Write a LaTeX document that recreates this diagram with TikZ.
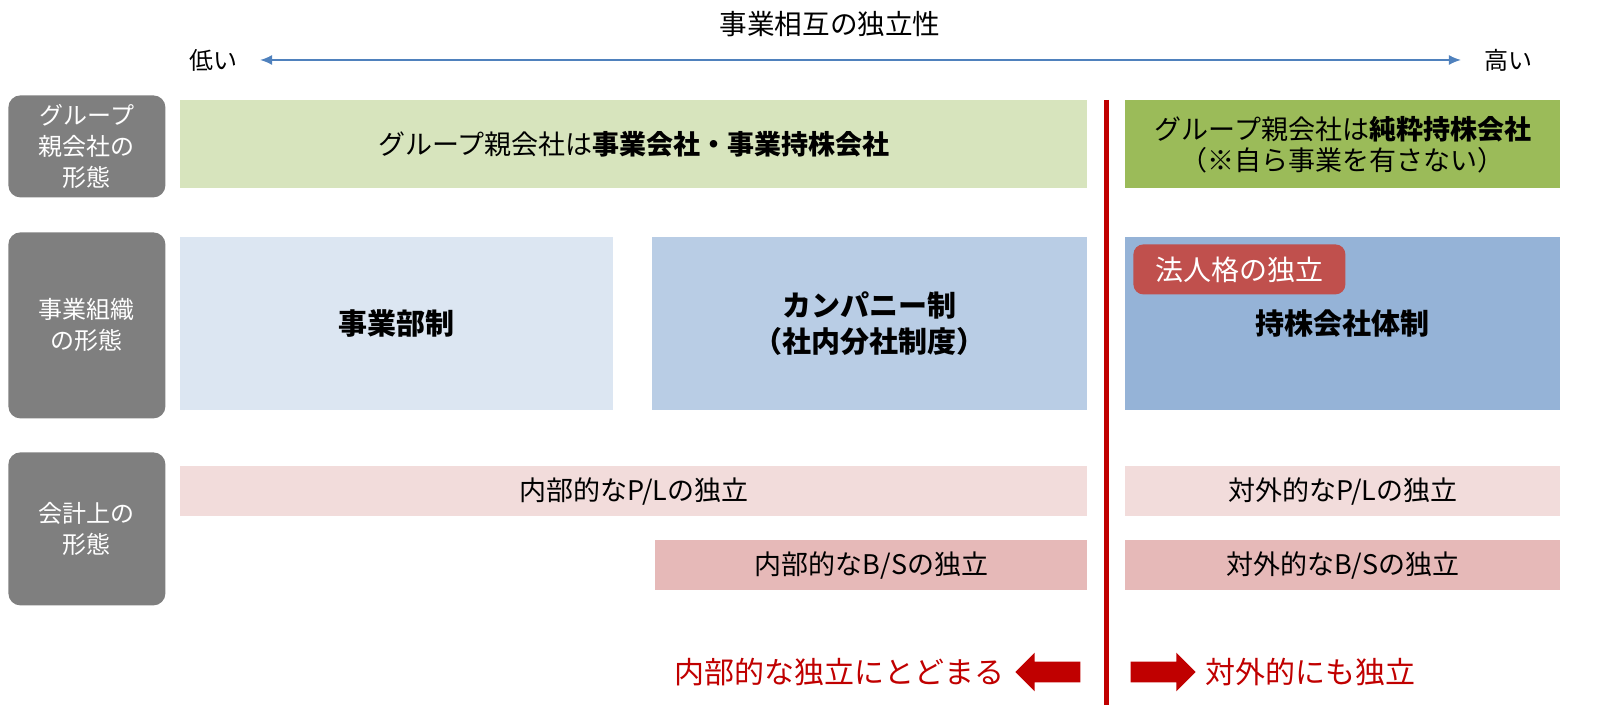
\documentclass[tikz,border=0pt]{standalone}
\usepackage{fontspec}
\setmainfont{Noto Sans CJK JP}
\usetikzlibrary{positioning,shapes.arrows,arrows.meta}
\usepackage{xcolor}

\definecolor{labgray}{HTML}{7F7F7F}
\definecolor{grnlight}{HTML}{D7E4BD}
\definecolor{grndark}{HTML}{9BBB59}
\definecolor{blueA}{HTML}{DCE6F2}
\definecolor{blueB}{HTML}{B9CDE5}
\definecolor{blueC}{HTML}{95B3D7}
\definecolor{pinkA}{HTML}{F2DCDB}
\definecolor{pinkB}{HTML}{E6B9B8}
\definecolor{tagred}{HTML}{C0504D}
\definecolor{linered}{HTML}{C00000}
\definecolor{axisblue}{HTML}{4F81BD}

\tikzset{
  cell/.style 2 args={rectangle, inner sep=0pt, anchor=north west, align=center,
    minimum width=#1*0.5pt, minimum height=#2*0.5pt},
  rowlabel/.style={fill=labgray, rounded corners=6pt, text=white,
    font=\fontsize{12}{15.5}\selectfont},
  orgtext/.style={font=\bfseries\fontsize{14.5}{18}\selectfont},
  acctext/.style={font=\fontsize{13.5}{16}\selectfont},
  blockarr/.style={single arrow, fill=linered, inner sep=0pt, inner ysep=5pt,
    single arrow head extend=4.5pt, minimum height=32.5pt},
}

\begin{document}
\begin{tikzpicture}[x=0.5pt, y=-0.5pt]
  \useasboundingbox (0,0) rectangle (1600,726);

  % Title and axis
  \node[font=\fontsize{13.8}{16}\selectfont] (title) at (830,24) {事業相互の独立性};
  \node[font=\fontsize{12}{15}\selectfont] (low) at (213,60) {低い};
  \node[font=\fontsize{12}{15}\selectfont] (high) at (1508,60) {高い};
  \draw[axisblue, line width=0.8pt, {Latex[length=6pt,width=5pt]}-{Latex[length=6pt,width=5pt]}]
    ([xshift=8pt]low.east) -- ([xshift=-8pt]high.west);

  % Row labels
  \node[cell={157}{102}, rowlabel] (grp) at (8,95) {グループ\\親会社の\\形態};
  \node[cell={157}{186}, rowlabel] (org) at (8,232) {事業組織\\の形態};
  \node[cell={157}{153}, rowlabel] (acct) at (8,452) {会計上の\\形態};

  % Row 1
  \node[cell={907}{88}, fill=grnlight, font=\fontsize{13.5}{15.5}\selectfont] (parentA) at (180,100)
    {グループ親会社は\textbf{事業会社・事業持株会社}};
  \node[cell={435}{88}, fill=grndark, font=\fontsize{13.5}{15.5}\selectfont] (parentB) at (1125,100)
    {グループ親会社は\textbf{純粋持株会社}\\（※自ら事業を有さない）};

  % Row 2
  \node[cell={433}{173}, fill=blueA, orgtext] (divsys) at (180,237) {事業部制};
  \node[cell={435}{173}, fill=blueB, orgtext] (compsys) at (652,237) {カンパニー制\\（社内分社制度）};
  \node[cell={435}{173}, fill=blueC, orgtext] (holdsys) at (1125,237) {持株会社体制};
  \node[cell={212}{50}, fill=tagred, rounded corners=5pt, text=white,
    font=\fontsize{14}{16}\selectfont] (legal) at (1133,244) {法人格の独立};

  % Row 3
  \node[cell={907}{50}, fill=pinkA, acctext] (plin) at (180,466) {内部的なP/Lの独立};
  \node[cell={435}{50}, fill=pinkA, acctext] (plout) at (1125,466) {対外的なP/Lの独立};
  \node[cell={432}{50}, fill=pinkB, acctext] (bsin) at (655,540) {内部的なB/Sの独立};
  \node[cell={435}{50}, fill=pinkB, acctext] (bsout) at (1125,540) {対外的なB/Sの独立};

  % Dividing line
  \coordinate (divtop) at (1106,100);
  \coordinate (divbot) at (1106,705);
  \draw[linered, line width=2.5pt] (divtop) -- (divbot);

  % Bottom arrows
  \node[blockarr, shape border rotate=180] (larr) at (1053,672) {};
  \node[blockarr] (rarr) at (1158,672) {};
  \node[anchor=east, text=linered, font=\fontsize{15}{18}\selectfont] (ltxt) at (1012,672) {内部的な独立にとどまる};
  \node[anchor=west, text=linered, font=\fontsize{15}{18}\selectfont] (rtxt) at (1198,672) {対外的にも独立};

\end{tikzpicture}
\end{document}
